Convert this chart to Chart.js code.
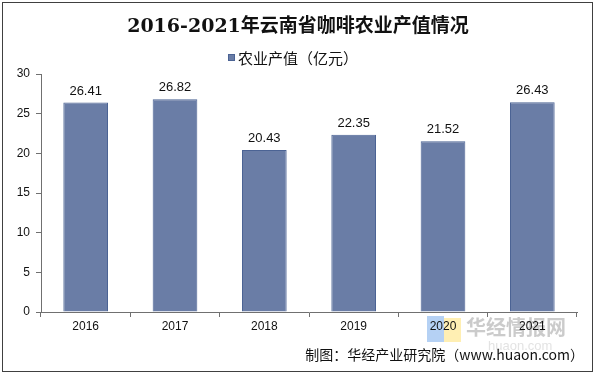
<!DOCTYPE html>
<html>
<head>
<meta charset="utf-8">
<script src="https://cdn.jsdelivr.net/npm/chart.js@4"></script>
<style>
  html, body { margin: 0; padding: 0; background: #fff; }
  #wrap { width: 596px; height: 377px; position: relative; }
</style>
</head>
<body>
<div id="wrap"><canvas id="coffeeChart"></canvas></div>
<script>
// data
const years = ["2016", "2017", "2018", "2019", "2020", "2021"];
const outputValues = [26.41, 26.82, 20.43, 22.35, 21.52, 26.43];
const yTicks = [0, 5, 10, 15, 20, 25, 30];

const titleText = "2016-2021年云南省咖啡农业产值情况";
const legendText = "农业产值（亿元）";
const sourceText = "制图：华经产业研究院（www.huaon.com）";

const barFill = "#6a7da6";
const barEdge = "#4b6394";
const sans = '"Liberation Sans", Arial, "Noto Sans CJK SC", sans-serif';

// title, legend, labels, footer, frame
const decor = {
  id: "decor",
  beforeDraw(chart) {
    const c = chart.ctx;
    c.save();
    c.fillStyle = "#fff";
    c.fillRect(0, 0, chart.width, chart.height);
    // watermark behind everything
    c.fillStyle = "rgba(150,190,240,0.7)";
    c.fillRect(427, 316, 17, 26);
    c.fillStyle = "rgba(255,235,160,0.8)";
    c.fillRect(444, 318, 17, 24);
    c.fillStyle = "rgba(160,160,160,0.55)";
    c.font = 'bold 20px "Noto Sans CJK SC", sans-serif';
    c.textAlign = "left";
    c.textBaseline = "middle";
    c.fillText("华经情报网", 466, 327);
    c.fillStyle = "rgba(200,200,200,0.5)";
    c.font = '13px ' + sans;
    c.fillText("huaon.com", 488, 346);
    c.restore();
  },
  afterDatasetsDraw(chart) {
    const c = chart.ctx;
    c.save();
    // frame
    c.strokeStyle = "#404040";
    c.lineWidth = 1;
    c.strokeRect(2.5, 2.5, 590, 369);
    // title
    c.fillStyle = "#111";
    c.textAlign = "center";
    c.textBaseline = "middle";
    c.font = 'bold 19px "DejaVu Serif", "Liberation Serif", "Noto Sans CJK SC", serif';
    c.fillText(titleText, 298, 27);
    // legend
    c.font = '15px "Noto Sans CJK SC", sans-serif';
    const tw = c.measureText(legendText).width;
    const lx = 298 - (tw + 10) / 2 + 5;
    c.fillStyle = barFill;
    c.fillRect(lx - 10, 54, 7, 7);
    c.strokeStyle = barEdge;
    c.strokeRect(lx - 9.5, 54.5, 6, 6);
    c.fillStyle = "#111";
    c.textAlign = "left";
    c.fillText(legendText, lx, 58);
    // value labels
    const meta = chart.getDatasetMeta(0);
    c.font = '13px ' + sans;
    c.textAlign = "center";
    c.textBaseline = "bottom";
    meta.data.forEach((bar, i) => {
      c.fillText(outputValues[i].toFixed(2), bar.x, bar.y - 5);
    });
    // source
    c.font = '14px "Noto Sans CJK SC", ' + sans;
    c.textAlign = "right";
    c.textBaseline = "middle";
    c.fillText(sourceText, 584, 355);
    c.restore();
  }
};

new Chart(document.getElementById("coffeeChart"), {
  type: "bar",
  data: {
    labels: years,
    datasets: [{
      label: legendText,
      data: outputValues,
      backgroundColor: barFill,
      borderColor: barEdge,
      borderWidth: 1,
      categoryPercentage: 1,
      barPercentage: 0.5
    }]
  },
  options: {
    responsive: true,
    maintainAspectRatio: false,
    animation: false,
    devicePixelRatio: 1,
    layout: { padding: { top: 74, right: 19, left: 0, bottom: 0 } },
    plugins: {
      legend: { display: false },
      title: { display: false },
      tooltip: { enabled: false }
    },
    scales: {
      x: {
        grid: { display: true, drawOnChartArea: false, tickLength: 5, color: "#707070", offset: true },
        border: { color: "#707070" },
        ticks: { color: "#111", font: { size: 12, family: sans }, padding: 2 },
        afterFit: s => { s.height = 65; }
      },
      y: {
        min: 0,
        max: 30,
        afterBuildTicks: s => { s.ticks = yTicks.map(v => ({ value: v })); },
        grid: { display: true, drawOnChartArea: false, tickLength: 5, color: "#707070" },
        border: { color: "#707070" },
        ticks: { color: "#111", font: { size: 12, family: sans }, padding: 6 },
        afterFit: s => { s.width = 41; }
      }
    }
  },
  plugins: [decor]
});
</script>
</body>
</html>
